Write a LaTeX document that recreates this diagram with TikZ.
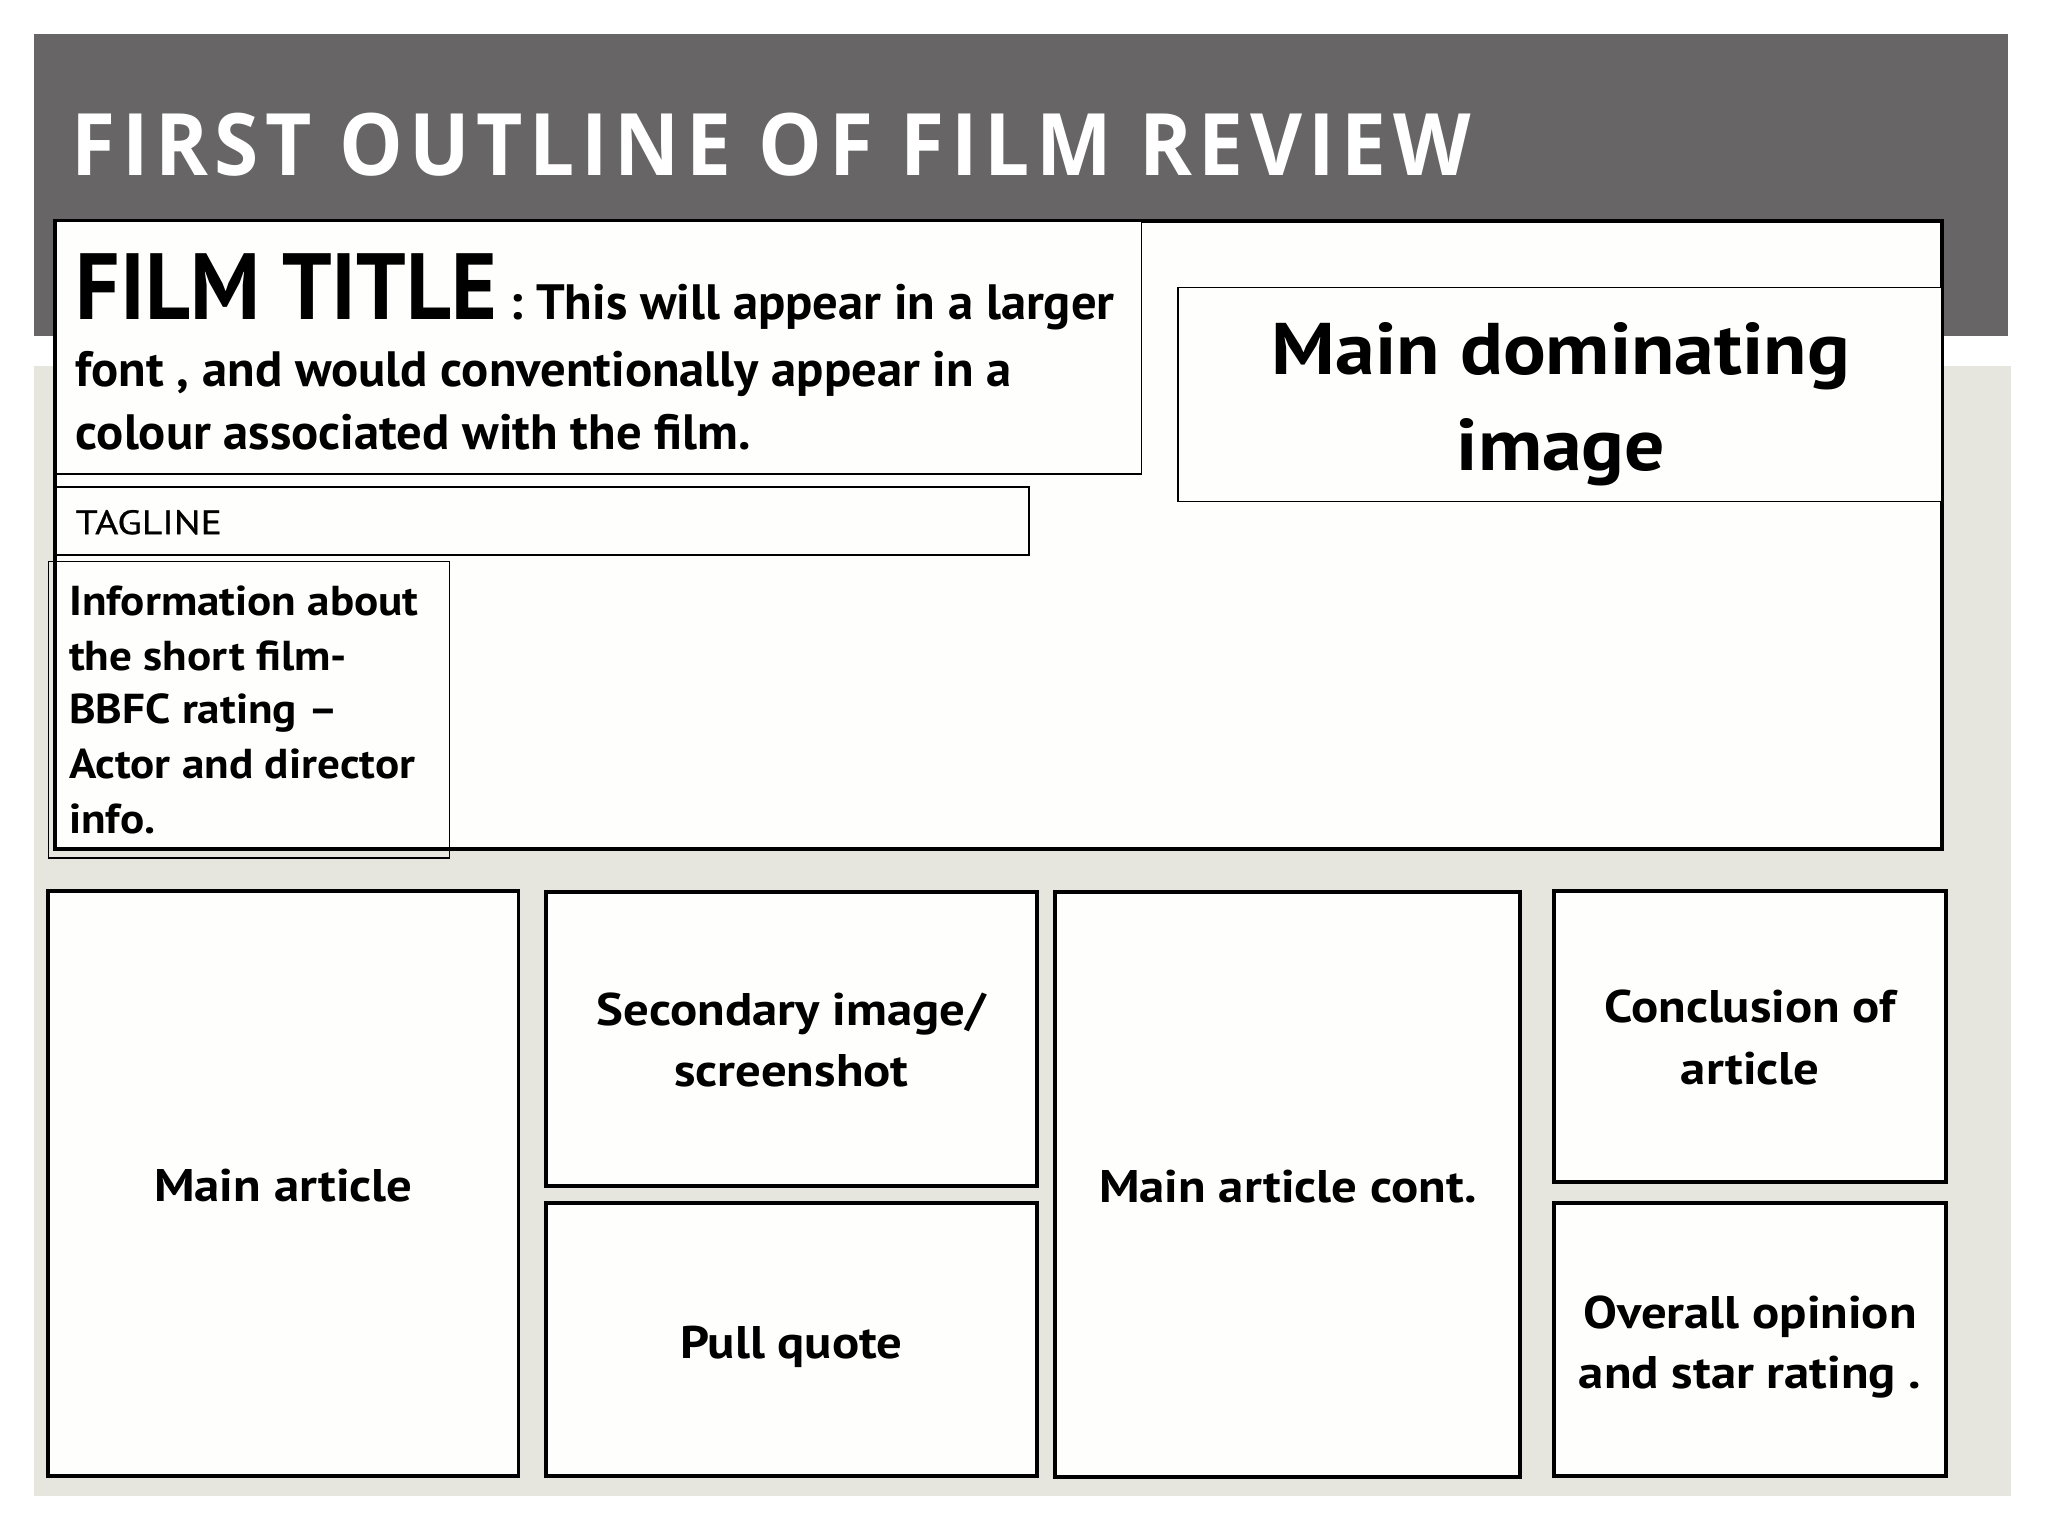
\documentclass[tikz,border=0pt]{standalone}
\usepackage{fontspec}
\newfontfamily\hdrf[LetterSpace=7.6, FakeStretch=0.93]{Open Sans}
\newfontfamily\ftf[FakeStretch=1.02]{PT Sans}
\newfontfamily\ftbig[FakeStretch=0.93]{PT Sans}
\newfontfamily\mif[FakeStretch=1.09]{PT Sans}
\newfontfamily\infof[FakeStretch=1.08]{PT Sans}
\newfontfamily\boxf[FakeStretch=1.11]{PT Sans}
\newfontfamily\tagf[FakeStretch=1.17, FakeBold=0.6]{PT Sans}
\definecolor{hdrgray}{HTML}{676566}
\definecolor{panelc}{HTML}{E6E6DF}
\definecolor{boxw}{HTML}{FEFEFC}
\tikzset{
  thinbox/.style={draw=black, line width=0.6pt, fill=boxw, inner sep=0pt, outer sep=0pt},
  thickbox/.style={draw=black, line width=1.5pt, fill=boxw, inner sep=0pt, outer sep=0pt},
  txt/.style={inner sep=0pt, outer sep=0pt, text=black},
  boxtext/.style={txt, font=\boxf\bfseries\fontsize{17.5}{23.5}\selectfont},
  fttext/.style={txt, anchor=base west, font=\ftf\bfseries\fontsize{19}{19}\selectfont},
}
\begin{document}
\begin{tikzpicture}[x=0.5pt, y=-0.5pt]
\useasboundingbox (0,0) rectangle (1568,1176);
\fill[white] (0,0) rectangle (1568,1176);
% header band and panel
\node[fill=hdrgray, inner sep=0pt, minimum width=755.5pt, minimum height=115.5pt] (hdr) at (781.5,141.5) {};
\node[fill=panelc, inner sep=0pt, minimum width=757pt, minimum height=432.5pt] (panel) at (783,712.5) {};
\node[txt, anchor=base west, text=white, font=\hdrf\bfseries\fontsize{33}{33}\selectfont] (title) at (55,134) {FIRST OUTLINE OF FILM REVIEW};
% main top box
\node[thickbox, minimum width=722.5pt, minimum height=240.5pt] (main) at (764.5,409.5) {};
\node[thinbox, minimum width=416pt, minimum height=97pt] (ftbox) at (458,266) {};
\node[thinbox, minimum width=292.5pt, minimum height=82pt] (imgbox) at (1194.5,302) {};
\node[thinbox, minimum width=373pt, minimum height=26pt] (tagbox) at (415,399) {};
\node[draw=black, line width=0.6pt, inner sep=0pt, minimum width=153.5pt, minimum height=113.5pt] (infobox) at (190.5,543.5) {};
\draw[line width=1.5pt] (main.north west) -- (main.south west) -- (main.south east);
% film title text
\node[fttext] (ft1) at (58,245)
  {{\ftbig\fontsize{36}{36}\selectfont FILM TITLE} : This will appear in a larger};
\node[fttext] (ft2) at (58,296) {font , and would conventionally appear in a};
\node[fttext] (ft3) at (58,344) {colour associated with the film.};
% main image text
\node[txt, anchor=base, font=\mif\bfseries\fontsize{28}{28}\selectfont] (mi1) at (1195,287) {Main dominating};
\node[txt, anchor=base, font=\mif\bfseries\fontsize{28}{28}\selectfont] (mi2) at (1195,360) {image};
% tagline
\node[txt, anchor=base west, font=\tagf\fontsize{13}{13}\selectfont] (tag) at (58,409) {TAGLINE};
% info
\foreach \t/\yy [count=\i] in {Information about/471, the short film-/513, BBFC rating –/554, Actor and director/596, info./638}
  \node[txt, anchor=base west, font=\infof\bfseries\fontsize{16}{16}\selectfont] (info\i) at (53,\yy) {\t};
% bottom boxes
\node[thickbox, minimum width=180pt, minimum height=224pt] (ma) at (217,906) {};
\node[thickbox, minimum width=188pt, minimum height=112.5pt] (sec) at (606,795.5) {};
\node[thickbox, minimum width=188pt, minimum height=104.5pt] (pq) at (606,1025.5) {};
\node[thickbox, minimum width=178pt, minimum height=224pt] (mac) at (986,907) {};
\node[thickbox, minimum width=150pt, minimum height=111.5pt] (con) at (1340,793.5) {};
\node[thickbox, minimum width=150pt, minimum height=104.5pt] (ov) at (1340,1025.5) {};
\node[boxtext, anchor=base] (tma) at (217,920) {Main article};
\node[boxtext, anchor=base] (tsec1) at (606,785) {Secondary image/};
\node[boxtext, anchor=base] (tsec2) at (606,832) {screenshot};
\node[boxtext, anchor=base] (tpq) at (606,1040) {Pull quote};
\node[boxtext, anchor=base] (tmac) at (986,921) {Main article cont.};
\node[boxtext, anchor=base] (tcon1) at (1340,783) {Conclusion of};
\node[boxtext, anchor=base] (tcon2) at (1340,830) {article};
\node[boxtext, anchor=base] (tov1) at (1340,1017) {Overall opinion};
\node[boxtext, anchor=base] (tov2) at (1340,1063) {and star rating .};
\end{tikzpicture}
\end{document}
